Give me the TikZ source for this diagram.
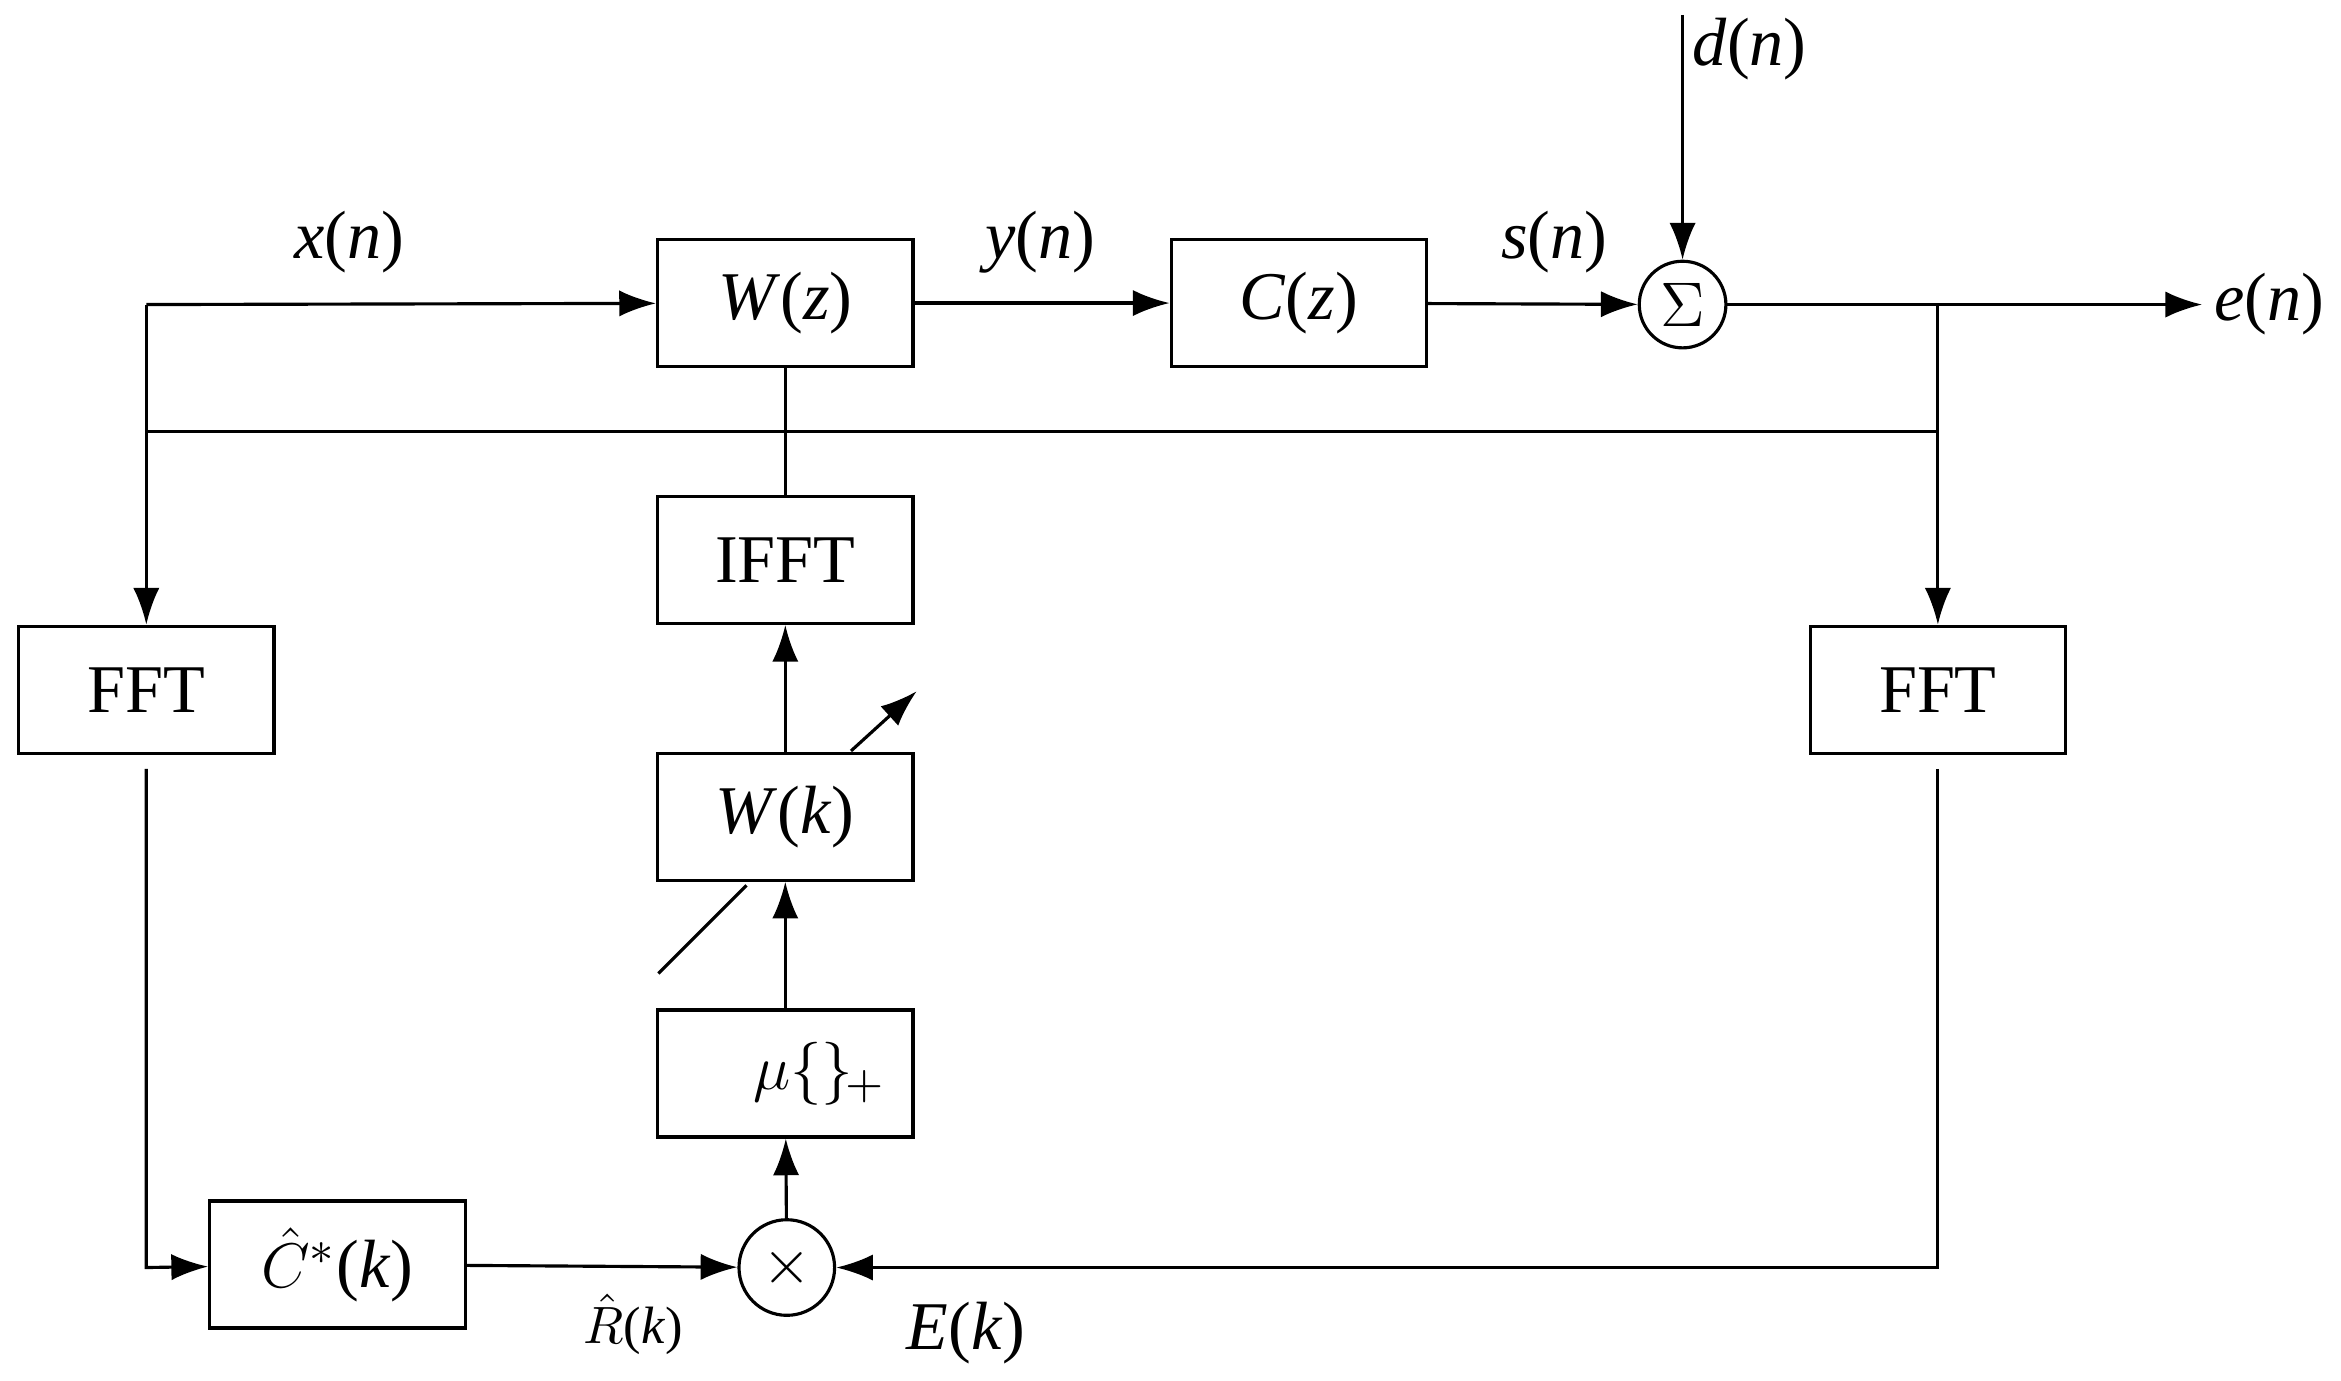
\documentclass[tikz,border=0pt]{standalone}
\usepackage{fontspec}
\setmainfont{Liberation Serif}
\usetikzlibrary{arrows.meta}
\newcommand{\iv}[1]{\textit{#1}}
\begin{document}
\begin{tikzpicture}[x=0.01cm,y=-0.01cm,
  box/.style={draw,line width=0.6pt,minimum width=1.71cm,minimum height=0.85cm,inner sep=0pt,font=\fontsize{13}{15}\selectfont},
  circ/.style={draw,circle,line width=0.6pt,minimum size=#1,inner sep=0pt,font=\fontsize{13}{15}\selectfont},
  lab/.style={font=\fontsize{13}{15}\selectfont},
  every path/.style={line width=0.6pt},
  arr/.style={-{Latex[length=7pt,width=5pt]}}]
\useasboundingbox (0,0) rectangle (1568,925);
\node[box] (wz) at (526,203) {\iv{W}(\iv{z})};
\node[box] (cz) at (870,203) {\iv{C}(\iv{z})};
\node[circ=0.58cm] (sum) at (1127,204) {$\Sigma$};
\node[box] (ifft) at (526,375) {IFFT};
\node[box] (fftl) at (98,462) {FFT};
\node[box] (fftr) at (1298,462) {FFT};
\node[box] (wk) at (526,547) {\iv{W}(\iv{k})};
\node[box] (mu) at (526,719) {\quad$\mu\{\}_{\!+}$};
\node[circ=0.64cm] (mul) at (527,849) {$\times$};
\node[box] (cs) at (226,847) {$\hat{C}^{*}$(\iv{k})};
\coordinate (dtop) at (1127,10);
\coordinate (eend) at (1475,204);
\coordinate (xs) at (98,204);
\coordinate (es) at (1298,204);
\coordinate (lb) at (98,849);
\coordinate (rb) at (1298,849);
\coordinate (lt) at (98,515);
\coordinate (rt) at (1298,515);
\draw[arr] (xs) -- (wz);
\draw[arr] (wz) -- (cz);
\draw[arr] (cz) -- (sum);
\draw[arr] (dtop) -- (sum);
\draw[arr] (sum) -- (eend);
\draw[arr] (xs) -- (fftl);
\draw[arr] (es) -- (fftr);
\draw (98,289) -- (1298,289);
\draw (wz) -- (ifft);
\draw[arr] (wk) -- (ifft);
\draw[arr] (mu) -- (wk);
\draw[arr] (mul) -- (mu);
\draw[arr] (lt) -- (lb) -- (cs);
\draw[arr] (cs) -- (mul);
\draw[arr] (rt) -- (rb) -- (mul);
\draw (441,652) -- (500,593);
\draw[arr] (570,503) -- (614,463);
\node[lab] at (234,162) {\iv{x}(\iv{n})};
\node[lab] at (697,162) {\iv{y}(\iv{n})};
\node[lab] at (1041,162) {\iv{s}(\iv{n})};
\node[lab] at (1172,33) {\iv{d}(\iv{n})};
\node[lab] at (1520,204) {\iv{e}(\iv{n})};
\node[font=\fontsize{10}{12}\selectfont] at (424,887) {$\hat{R}$(\iv{k})};
\node[lab] at (647,893) {\iv{E}(\iv{k})};
\end{tikzpicture}
\end{document}
